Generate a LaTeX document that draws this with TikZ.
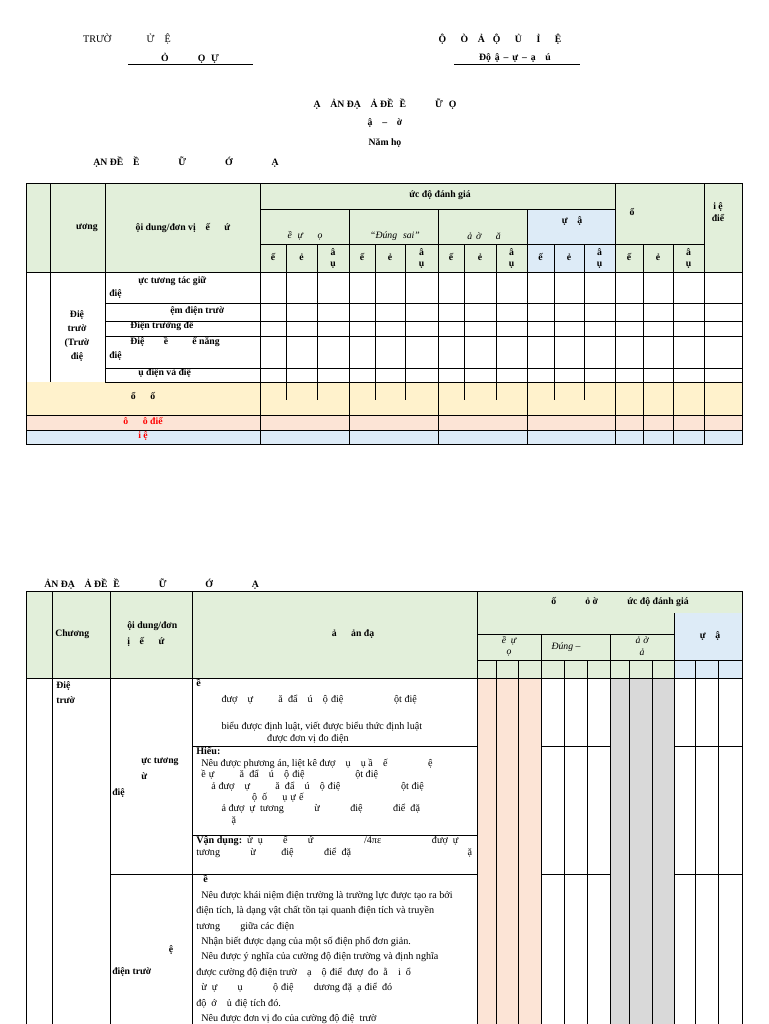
\documentclass[tikz,border=0pt]{standalone}
\usepackage{fontspec}
\setmainfont{Liberation Serif}
\begin{document}
\begin{tikzpicture}[x=0.75pt,y=-0.75pt,
  t/.style={font=\fontsize{7.3}{8.5}\selectfont\bfseries,inner sep=0pt},
  tn/.style={font=\fontsize{7.6}{8.6}\selectfont,inner sep=0pt},
  ti/.style={font=\fontsize{7.3}{8.5}\selectfont\itshape,inner sep=0pt},
  red/.style={text=red},
  grid/.style={line width=0.6pt}]
\definecolor{hg}{HTML}{E2EFDA}
\definecolor{hb}{HTML}{DDEBF7}
\definecolor{yl}{HTML}{FFF2CC}
\definecolor{pk}{HTML}{FCE4D6}
\definecolor{gy}{HTML}{D9D9D9}
\useasboundingbox (0,0) rectangle (768,1024);
\fill[white] (0,0) rectangle (768,1024);
% header texts
\node[tn] (h1) at (127,39) {TRƯỜ\hspace{3.5em}Ử\hspace{1em}Ệ};
\node[t] (h2) at (500,39) {Ộ\hspace{1.5em}Ò\hspace{1em}Ả\hspace{0.8em}Ộ\hspace{1.5em}Ủ\hspace{1.5em}Ỉ\hspace{1.5em}Ệ};
\node[t] (h3) at (190,58) {Ỏ\hspace{3em}Ọ\hspace{0.6em}Ự};
\draw (128,64) -- (253,64);
\node[t] (h4) at (515,58) {Độ\hspace{0.4em}ậ\hspace{0.4em}–\hspace{0.4em}ự\hspace{0.4em}–\hspace{0.4em}ạ\hspace{1em}ú};
\draw (454,64) -- (580,64);
\node[t] (h5) at (385,104) {Ạ\hspace{1em}ẢN ĐẠ\hspace{1em}Ả ĐỀ\hspace{0.6em}Ề\hspace{3em}Ữ\hspace{0.6em}Ọ};
\node[t] (h6) at (385,123) {ậ\hspace{1em}–\hspace{1em}ờ};
\node[t] (h7) at (385,143) {Năm họ};
\node[t] (h8) at (186,162) {ẠN ĐỀ\hspace{1em}Ề\hspace{4em}Ữ\hspace{4em}Ớ\hspace{4em}Ạ};
% ===== table 1 =====
\fill[hg] (26,183) rectangle (742,272);
\fill[hb] (527,209) rectangle (615,272);
\fill[yl] (26,382) rectangle (742,415);
\fill[pk] (26,415) rectangle (742,430);
\fill[hb] (26,430) rectangle (742,444);
\begin{scope}[grid]
\draw (26,183) rectangle (742,444);
\foreach \x in {50,105} \draw (\x,183) -- (\x,382);
\draw (260,183) -- (260,444);
\foreach \x in {349,438,527,615,704} \draw (\x,209) -- (\x,444);
\draw (615,183) -- (615,444); \draw (704,183) -- (704,444);
\foreach \x in {286,317,375,405,464,496,554,584} \draw (\x,244) -- (\x,400);
\foreach \x in {643,673} \draw (\x,244) -- (\x,444);
\foreach \x in {349,438} \draw (\x,226) -- (\x,244);
\draw (260,209) -- (615,209);
\draw (260,244) -- (704,244);
\draw (26,272) -- (742,272);
\foreach \y in {303,321,336,368} \draw (105,\y) -- (742,\y);
\draw (105,382) -- (742,382);
\draw (26,415) -- (742,415); \draw (26,430) -- (742,430);
\end{scope}
\node[t] (a1) at (87,228) {ương};
\node[t] (a2) at (183,228) {ội dung/đơn vị\hspace{1em}ế\hspace{1.5em}ứ};
\node[t] (a3) at (440,195) {ức độ đánh giá};
\node[t] (a4) at (572,221) {ự\hspace{1em}ậ};
\node[t] (a5) at (632,212) {ổ};
\node[t] (a6) at (718,207) {i ệ};
\node[t] (a7) at (718,218) {điể};
\node[ti] (g1) at (305,236) {ề\hspace{0.6em}ự\hspace{1.5em}ọ};
\node[ti] (g2) at (395,236) {“Đúng\hspace{0.6em}sai”};
\node[ti] (g3) at (484,236) {ả\hspace{0.4em}ờ\hspace{1.5em}ă};
\foreach \a/\b in {260/286,349/375,438/464,527/554,615/643} {
  \node[t] at ({(\a+\b)/2},257) {ế};
}
\foreach \a/\b in {286/317,375/405,464/496,554/584,643/673} {
  \node[t] at ({(\a+\b)/2},257) {ẻ};
}
\foreach \a/\b in {317/349,405/438,496/527,584/615,673/704} {
  \node[t] at ({(\a+\b)/2},252) {â}; \node[t] at ({(\a+\b)/2},265) {ụ};
}
\node[t,align=center] (c1) at (77,336) {Điệ\\[2pt]trườ\\[2pt](Trườ\\[2pt]điệ};
\node[t,anchor=west] (r1) at (138,281) {ực tương tác giữ};
\node[t,anchor=west] (r1b) at (109,294) {điệ};
\node[t,anchor=west] (r2) at (170,311) {ệm điện trườ};
\node[t,anchor=west] (r3) at (130,326) {Điện trường đề};
\node[t,anchor=west] (r4) at (130,342) {Điệ\hspace{2em}ề\hspace{2.5em}ế năng};
\node[t,anchor=west] (r4b) at (109,356) {điệ};
\node[t,anchor=west] (r5) at (138,373) {ụ điện và điệ};
\node[t] (y1) at (143,396) {ổ\hspace{1.5em}ố};
\node[t,red] (p1) at (143,421) {ô\hspace{1.5em}ô điể};
\node[t,red] (b1) at (143,436) {i ệ};
% ===== table 2 =====
\node[t,anchor=west] (h9) at (44,584) {ẢN ĐẠ\hspace{1em}Ả ĐỀ\hspace{0.6em}Ề\hspace{4em}Ữ\hspace{4em}Ớ\hspace{4em}Ạ};
\fill[hg] (26,591) rectangle (742,678);
\fill[hb] (674,613) rectangle (742,678);
\fill[pk] (477,678) rectangle (541,1024);
\fill[gy] (610,678) rectangle (674,1024);
\begin{scope}[grid]
\draw (26,1024) -- (26,591) -- (742,591) -- (742,1024);
\foreach \x in {52,110,192,477} \draw (\x,591) -- (\x,1024);
\draw (477,634) -- (674,634);
\draw (674,613) -- (674,1024);
\foreach \x in {541,610} \draw (\x,634) -- (\x,1024);
\draw (477,660) -- (742,660);
\foreach \x in {496,518,564,587,629,652,695,718} \draw (\x,660) -- (\x,1024);
\draw (26,678) -- (742,678);
\draw (192,746) -- (477,746); \draw (192,835) -- (477,835);
\draw (110,874) -- (477,874);
\foreach \y in {746,874} {\draw (541,\y) -- (610,\y); \draw (674,\y) -- (742,\y);}
\end{scope}
\node[t,anchor=west] (b2) at (55,634) {Chương};
\node[t,anchor=west] (b3) at (127,626) {ội dung/đơn};
\node[t,anchor=west] (b4) at (127,642) {ị\hspace{1em}ế\hspace{1.5em}ứ};
\node[t] (b5) at (353,634) {ả\hspace{1.5em}ản đạ};
\node[t] (b6) at (620,602) {ố\hspace{3em}ỏ ờ\hspace{3em}ức độ đánh giá};
\node[t] (b7) at (710,636) {ự\hspace{1em}ậ};
\node[ti,align=center] (b8) at (509,646) {ề\hspace{0.5em}ự\\ọ};
\node[ti] (b9) at (566,647) {Đúng –};
\node[ti,align=center] (b10) at (642,646) {ả\hspace{0.3em}ờ\\ả};
\node[t,anchor=north west,align=left] (b11) at (56,681) {Điệ\\[3pt]trườ};
\node[t,anchor=west] (b12) at (141,762) {ực tương};
\node[t,anchor=west] (b13) at (141,776) {ừ};
\node[t,anchor=west] (b14) at (112,793) {điệ};
\node[t,anchor=west] (b15) at (112,972) {điện trườ};
\node[t] (b16) at (171,950) {ệ};
\node[tn,anchor=north west,align=left] (d1) at (196,679)
{\textbf{ề}\\[3pt]\hspace{2.5em}đượ\hspace{1em}ự\hspace{2.5em}ă\hspace{0.5em}đẩ\hspace{1em}ú\hspace{1em}ộ\hspace{0.3em}điệ\hspace{5em}ột điệ\\[12pt]
\hspace{2.5em}biểu được định luật, viết được biểu thức định luật\\
\hspace{7em}được đơn vị đo điện};
\node[tn,anchor=north west,align=left] (d2) at (196,747)
{\textbf{Hiểu:}\\
\hspace{0.5em}Nêu được phương án, liệt kê đượ\hspace{1em}ụ\hspace{1em}ụ ầ\hspace{1em}ế\hspace{4em}ệ\\
\hspace{0.5em}ề\hspace{0.3em}ự\hspace{2.5em}ă\hspace{0.5em}đẩ\hspace{1em}ú\hspace{1em}ộ\hspace{0.3em}điệ\hspace{5em}ột điệ\\
\hspace{1.5em}ả đượ\hspace{1em}ự\hspace{2.5em}ă\hspace{0.5em}đẩ\hspace{1em}ú\hspace{1em}ộ\hspace{0.3em}điệ\hspace{6em}ột điệ\\
\hspace{5.5em}ộ\hspace{0.5em}ố\hspace{1.5em}ụ\hspace{0.3em}ự\hspace{0.3em}ế\\
\hspace{2.5em}ả đượ\hspace{0.5em}ự\hspace{0.5em}tương\hspace{3em}ừ\hspace{3em}điệ\hspace{3em}điể\hspace{0.5em}đặ\\
\hspace{3.5em}ặ};
\node[tn,anchor=north west,align=left] (d3) at (196,836)
{\textbf{Vận dụng:}\hspace{0.5em}ử\hspace{0.5em}ụ\hspace{2em}ế\hspace{2em}ứ\hspace{5em}/4πε\hspace{5em}đượ\hspace{0.5em}ự\\
tương\hspace{3em}ừ\hspace{2.5em}điệ\hspace{3em}điể\hspace{0.5em}đặ\hspace{11.5em}ặ};
\node[tn,anchor=north west,align=left] (d4) at (196,875)
{\hspace{0.7em}\textbf{ề}\\[3pt]
\hspace{0.5em}Nêu được khái niệm điện trường là trường lực được tạo ra bởi\\[3pt]
điện tích, là dạng vật chất tồn tại quanh điện tích và truyền\\[3pt]
tương\hspace{2em}giữa các điện\\[3pt]
\hspace{0.5em}Nhận biết được dạng của một số điện phổ đơn giản.\\[3pt]
\hspace{0.5em}Nêu được ý nghĩa của cường độ điện trường và định nghĩa\\[3pt]
được cường độ điện trườ\hspace{1em}ạ\hspace{1em}ộ\hspace{0.3em}điể\hspace{0.5em}đượ\hspace{0.5em}đo\hspace{0.5em}ằ\hspace{1em}i\hspace{0.5em}ổ\\[3pt]
\hspace{0.5em}ừ\hspace{0.5em}ự\hspace{2em}ụ\hspace{3em}ộ\hspace{0.3em}điệ\hspace{2em}dương đặ\hspace{0.5em}ạ\hspace{0.3em}điể\hspace{0.5em}đó\\[3pt]
độ\hspace{0.5em}ớ\hspace{1em}ủ\hspace{0.3em}điệ\hspace{0.3em}tích đó.\\[3pt]
\hspace{0.5em}Nêu được đơn vị đo của cường độ điệ\hspace{0.5em}trườ};
\end{tikzpicture}
\end{document}
